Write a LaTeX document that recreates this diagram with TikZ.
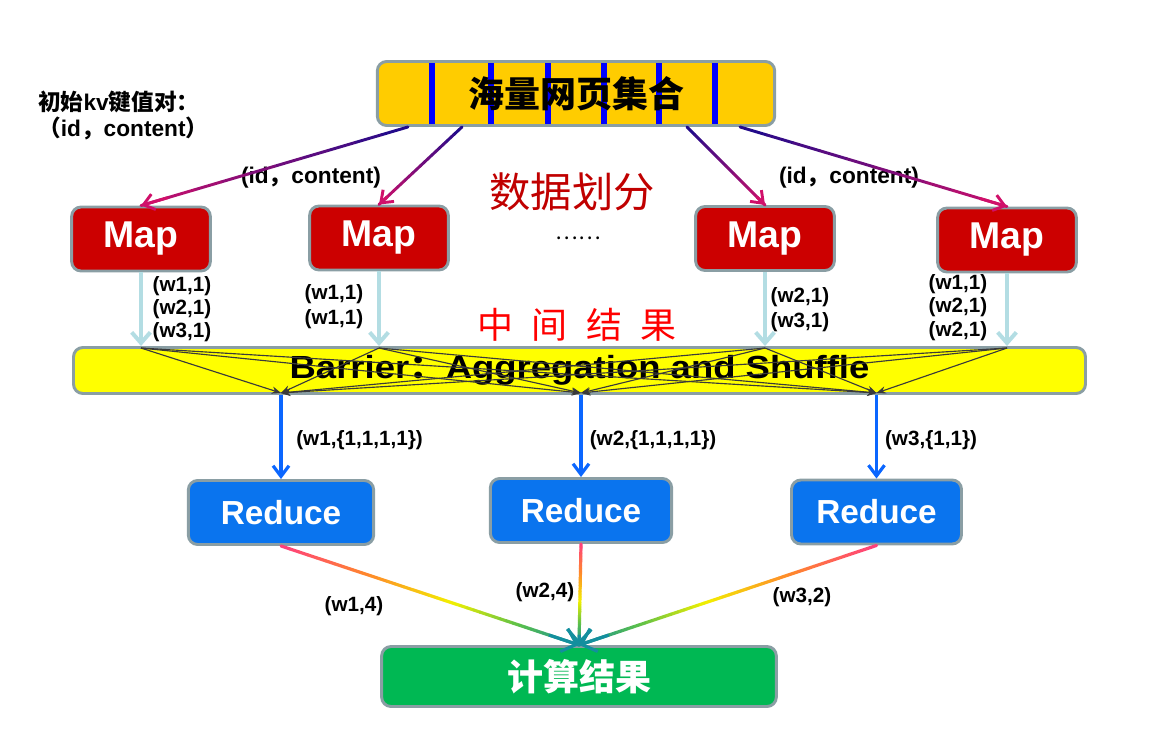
\documentclass[tikz,border=0pt]{standalone}
\usepackage{fontspec}
\setmainfont{Liberation Sans}
\newfontfamily\cjk{Noto Sans CJK SC}
\usetikzlibrary{positioning, arrows.meta, calc}

\definecolor{gold}{HTML}{FFCC00}
\definecolor{mapred}{HTML}{CC0000}
\definecolor{barbg}{HTML}{FFFF00}
\definecolor{redblue}{HTML}{0A74EE}
\definecolor{resgreen}{HTML}{00B853}
\definecolor{rim}{HTML}{8A9EA4}
\definecolor{pale}{HTML}{B3DDE3}
\definecolor{deepblue}{HTML}{1A0A8C}
\definecolor{crimson}{HTML}{D0106A}
\definecolor{arrowblue}{HTML}{0A66FF}
\definecolor{rbpink}{HTML}{FF3D7F}
\definecolor{rborange}{HTML}{FF8A2A}
\definecolor{rbyellow}{HTML}{F2F000}
\definecolor{rbgreen}{HTML}{5CC04A}
\definecolor{rbteal}{HTML}{138F9E}
\definecolor{titlered}{HTML}{C00000}
\definecolor{wire}{HTML}{3A3A3A}

% colour ramp along a straight connector: from #1 to #2, fraction #3..#4, colour #5 -> #6
\newcommand{\gradseg}[6]{%
  \foreach \k in {0,...,9}{%
    \pgfmathsetmacro{\fa}{#3+(#4-#3)*\k/10}%
    \pgfmathsetmacro{\fb}{#3+(#4-#3)*(\k+1)/10}%
    \pgfmathtruncatemacro{\mix}{95-10*\k}%
    \draw[grad, color=#5!\mix!#6] ($(#1)!\fa!(#2)$) -- ($(#1)!\fb!(#2)$);
  }}

\begin{document}
\begin{tikzpicture}[x=0.75pt, y=-0.75pt,
  box/.style={draw=rim, line width=2.2pt, rounded corners=7pt, align=center, inner sep=0pt},
  mapbox/.style={box, fill=mapred, minimum width=104pt, minimum height=48pt, text=white,
    font=\fontsize{28}{28}\selectfont\bfseries},
  redbox/.style={box, fill=redblue, minimum height=48pt, text=white,
    font=\fontsize{25}{25}\selectfont\bfseries},
  lbl/.style={font=\fontsize{15.5}{17.5}\selectfont\bfseries, align=left, inner sep=0pt},
  grad/.style={line cap=round},
  barb/.style={-{Straight Barb[length=8pt, width=12pt]}},
  pale arrow/.style={draw=pale, line width=3pt, -{Straight Barb[length=8pt, width=14pt]}},
  wire arrow/.style={draw=wire, line width=0.85pt, -{Stealth[length=7pt, width=5.5pt]}},
  down arrow/.style={draw=arrowblue, line width=2.4pt, -{Straight Barb[length=8pt, width=12pt]}}]
  \useasboundingbox (0,0) rectangle (1160,742);

  % source pages
  \node[box, fill=gold, minimum width=298pt, minimum height=48pt,
    font=\cjk\fontsize{27}{27}\selectfont\bfseries,
    path picture={\foreach \dx in {-144,-85,-28,28,83,139}
      \draw[blue, line width=4.5pt] ($(path picture bounding box.north)+(\dx,0)$)
        -- ($(path picture bounding box.south)+(\dx,0)$);}]
    (src) at (576,93.5) {海量网页集合};
  \node[lbl, anchor=west, font=\fontsize{17}{19}\selectfont\bfseries] (kv) at (38,115.5)
    {{\cjk 初始}kv{\cjk 键值对：}\\{\cjk （}id{\cjk ，}content{\cjk ）}};

  % map
  \node[mapbox] (m1) at (141,239) {Map};
  \node[mapbox] (m2) at (379,238) {Map};
  \node[mapbox] (m3) at (765,238.5) {Map};
  \node[mapbox] (m4) at (1007,240) {Map};
  \node[font=\cjk\fontsize{31}{31}\selectfont, text=titlered] (split) at (572,192) {数据划分};
  \node[font=\cjk\fontsize{16}{16}\selectfont] (dots) at (578,238) {……};
  \node[lbl, font=\fontsize{17}{19}\selectfont\bfseries] (id1) at (311,178) {(id{\cjk ，}content)};
  \node[lbl, font=\fontsize{17}{19}\selectfont\bfseries] (id2) at (849,178) {(id{\cjk ，}content)};

  % barrier
  \node[box, fill=barbg, minimum width=759pt, minimum height=34.5pt,
    font=\fontsize{24}{24}\selectfont\bfseries]
    (bar) at (579.5,370.5) {\scalebox{1.14}[1]{Barrier{\cjk ：}Aggregation and Shuffle}};
  \node[font=\cjk\fontsize{27}{27}\selectfont, text=red] (mid) at (577,325)
    {中\hspace{14pt}间\hspace{14pt}结\hspace{14pt}果};
  \node[lbl] (k1) at (182,309) {(w1,1)\\(w2,1)\\(w3,1)};
  \node[lbl] (k2) at (334,306.5) {(w1,1)\\[1.5pt](w1,1)};
  \node[lbl] (k3) at (800,309.5) {(w2,1)\\[1.5pt](w3,1)};
  \node[lbl] (k4) at (958,307.5) {(w1,1)\\(w2,1)\\(w2,1)};

  % reduce
  \node[redbox, minimum width=139pt] (r1) at (281,512.5) {Reduce};
  \node[redbox, minimum width=136pt] (r2) at (581,510.5) {Reduce};
  \node[redbox, minimum width=127.5pt] (r3) at (876.5,512) {Reduce};
  \node[lbl] (g1) at (359.5,440) {(w1,\{1,1,1,1\})};
  \node[lbl] (g2) at (653,440) {(w2,\{1,1,1,1\})};
  \node[lbl] (g3) at (931,440) {(w3,\{1,1\})};

  % result
  \node[box, fill=resgreen, minimum width=296pt, minimum height=45pt, text=white,
    font=\cjk\fontsize{27}{27}\selectfont\bfseries] (res) at (579,676.5) {计算结果};
  \node[lbl] (c1) at (354,606) {(w1,4)};
  \node[lbl] (c2) at (545,592) {(w2,4)};
  \node[lbl] (c3) at (802,597) {(w3,2)};

  % split arrows
  \coordinate (o1) at ($(src.south)+(-168,0)$);
  \coordinate (o2) at ($(src.south)+(-114,0)$);
  \coordinate (o3) at ($(src.south)+(111,0)$);
  \coordinate (o4) at ($(src.south)+(164,0)$);
  \begin{scope}[line width=2.2pt]
    \foreach \i in {1,...,4}{
      \gradseg{o\i}{m\i.north}{0}{1}{deepblue}{crimson}
      \draw[crimson, barb] ($(o\i)!0.9!(m\i.north)$) -- (m\i.north);
    }
  \end{scope}

  % map output into the barrier
  \foreach \i in {1,...,4}
    \draw[pale arrow] (m\i.south) -- (m\i.south |- bar.north);

  % shuffle
  \foreach \i in {1,...,4}
    \foreach \j in {1,2,3}
      \draw[wire arrow] ($(m\i.south |- bar.north)+(0,2)$) -- ($(r\j.north |- bar.south)+(0,-2)$);

  % barrier to reduce
  \foreach \j in {1,2,3}
    \draw[down arrow] (r\j.north |- bar.south) -- (r\j.north);

  % reduce to result
  \begin{scope}[line width=2.4pt]
    \foreach \r in {r1,r2,r3}{
      \gradseg{\r.south}{res.north}{0}{0.3}{rbpink}{rborange}
      \gradseg{\r.south}{res.north}{0.3}{0.58}{rborange}{rbyellow}
      \gradseg{\r.south}{res.north}{0.58}{0.8}{rbyellow}{rbgreen}
      \gradseg{\r.south}{res.north}{0.8}{1}{rbgreen}{rbteal}
      \draw[rbteal, -{Straight Barb[length=10pt, width=18pt]}] ($(\r.south)!0.9!(res.north)$) -- (res.north);
    }
  \end{scope}
\end{tikzpicture}
\end{document}
